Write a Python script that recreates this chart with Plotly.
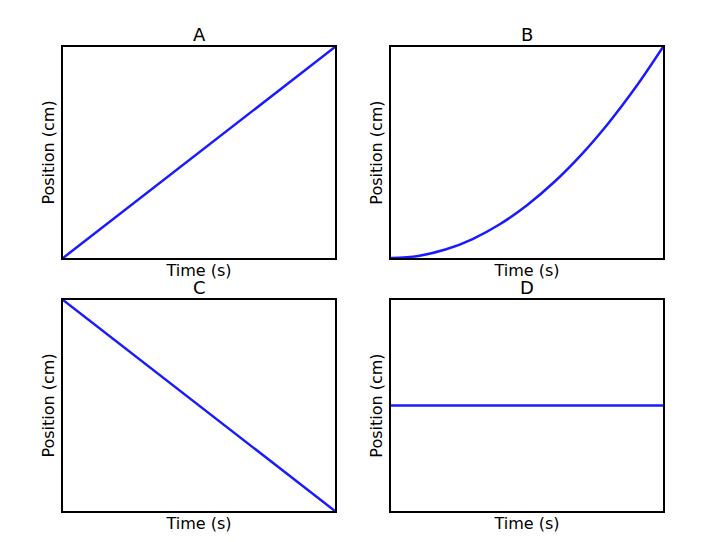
import plotly.graph_objects as go
from plotly.subplots import make_subplots

# --- données ---
panels = ["A", "B", "C", "D"]
time_a = [0, 10]
pos_a = [0, 10]
time_b = [0, 1, 2, 3, 4, 5, 6, 7, 8, 9, 10]
pos_b = [0, 1, 4, 9, 16, 25, 36, 49, 64, 81, 100]
time_c = [0, 10]
pos_c = [10, 0]
time_d = [0, 10]
pos_d = [5, 5]

series = [(time_a, pos_a), (time_b, pos_b), (time_c, pos_c), (time_d, pos_d)]
y_ranges = [[0, 10], [0, 100], [0, 10], [0, 10]]

fig = make_subplots(rows=2, cols=2)

for i, (t, p) in enumerate(series):
    r, c = i // 2 + 1, i % 2 + 1
    fig.add_trace(go.Scatter(x=t, y=p, mode="lines",
                             line=dict(color="#1a1aff", width=2.5, shape="spline"),
                             showlegend=False, hoverinfo="skip"), row=r, col=c)

# la page décale le graphique d'environ 7 px
off = 7
W, H = 708, 542
xdom = [[(62 - off) / W, (334 - off) / W], [(390 - off) / W, (662 - off) / W]]
ydom = [[1 - (257 - off) / H, 1 - (46 - off) / H], [1 - (510 - off) / H, 1 - (299 - off) / H]]

axis_style = dict(showline=True, mirror=True, linecolor="black", linewidth=1.5,
                  showgrid=False, zeroline=False, showticklabels=False, ticks="")
font = dict(family="DejaVu Sans", size=16, color="black")

for i in range(4):
    r, c = i // 2, i % 2
    n = "" if i == 0 else str(i + 1)
    fig.layout["xaxis" + n].update(domain=xdom[c], range=[0, 10],
                                   title=dict(text="Time (s)", font=font, standoff=6),
                                   **axis_style)
    fig.layout["yaxis" + n].update(domain=ydom[r], range=y_ranges[i],
                                   title=dict(text="Position (cm)", font=font, standoff=3),
                                   **axis_style)
    fig.add_annotation(text=panels[i], x=sum(xdom[c]) / 2, y=ydom[r][1],
                       xref="paper", yref="paper", showarrow=False,
                       xanchor="center", yanchor="bottom", yshift=0,
                       font=dict(family="DejaVu Sans", size=18, color="black"))

fig.update_layout(width=W, height=H, margin=dict(l=0, r=0, t=0, b=0),
                  paper_bgcolor="white", plot_bgcolor="white")

fig.write_html("out.html")
